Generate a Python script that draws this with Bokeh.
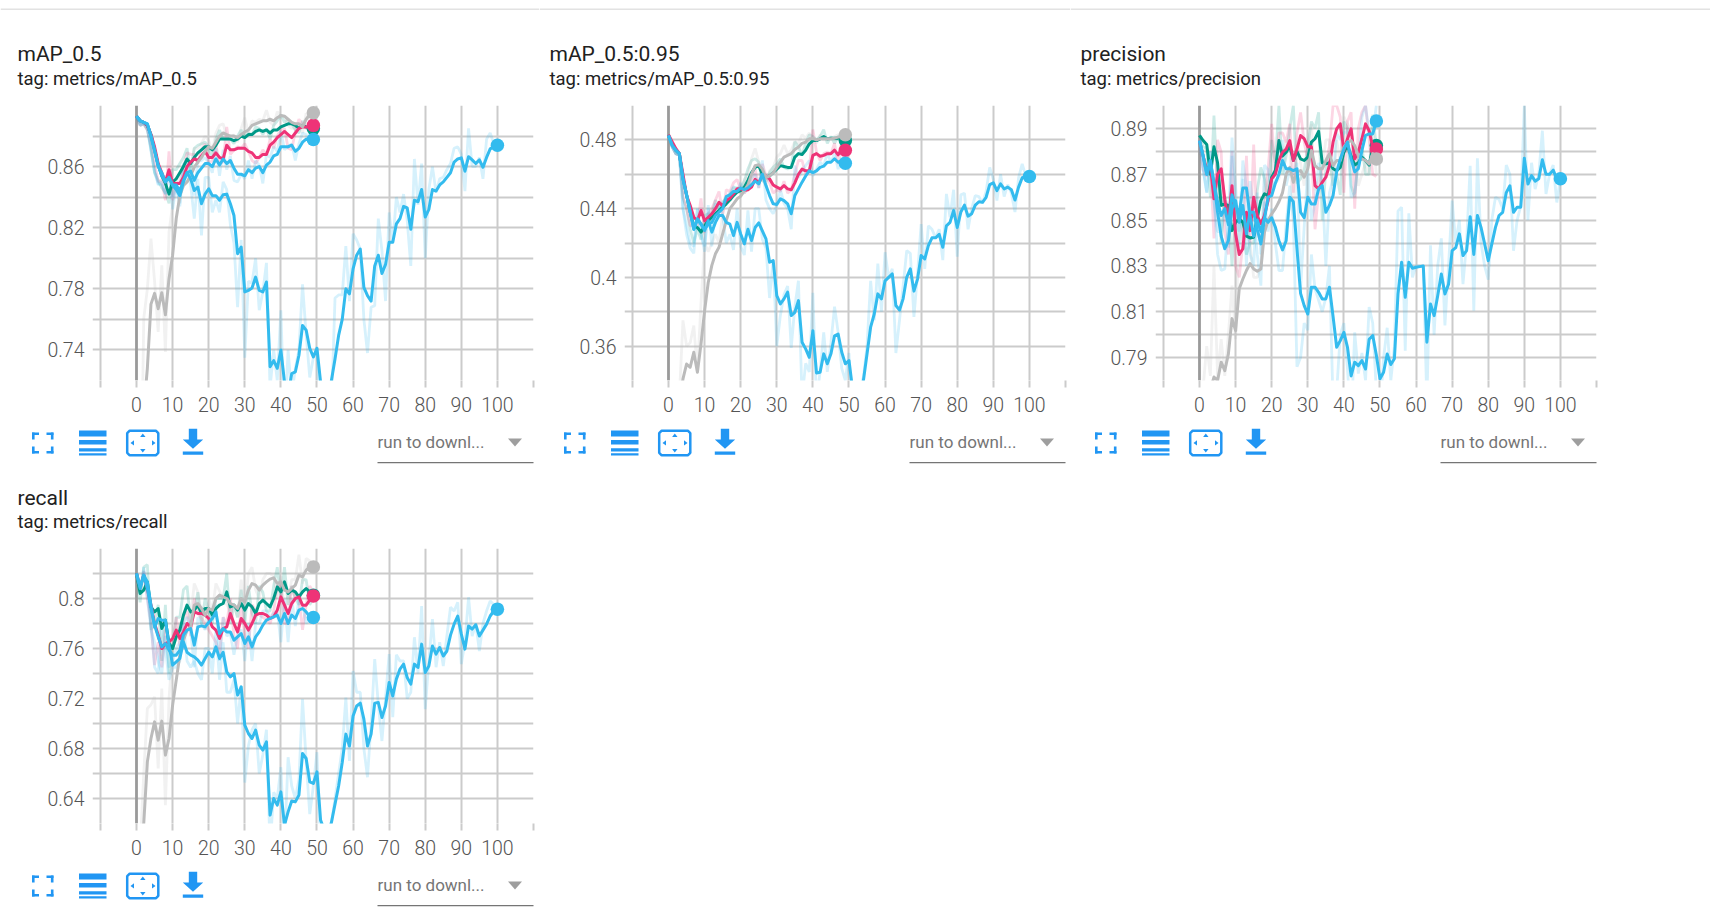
from bokeh.core.properties import value
from bokeh.embed import file_html
from bokeh.resources import INLINE
from bokeh.plotting import figure
from bokeh.layouts import column, row
from bokeh.models import Range1d, FixedTicker, Grid

# ---------- shared ----------
x_ticks = [-10, 0, 10, 20, 30, 40, 50, 60, 70, 80, 90, 100, 110]
x_tick_labels = ["", "0", "10", "20", "30", "40", "50", "60", "70", "80", "90", "100", ""]
run_names = ["teal", "pink", "gray", "blue_short", "blue_long"]

# ---------- mAP_0.5 ----------
map50_titles = ["mAP_0.5", "tag: metrics/mAP_0.5"]
map50_range = [0.72, 0.90]
map50_grid = [.72, .74, .76, .78, .80, .82, .84, .86, .88, .90]
map50_ticks = [.74, .78, .82, .86]
map50_tick_labels = ["0.74", "0.78", "0.82", "0.86"]
map50_teal = [.893,.890,.889,.887,.881,.871,.861,.854,.849,.842,.850,.852,.856,.860,.865,.862,.866,.869,.871,.873,.873,.871,.874,.878,.878,.878,.878,.877,.878,.880,.879,.881,.881,.883,.884,.883,.884,.882,.884,.884,.886,.887,.888,.888,.887,.885,.887,.886,.886,.885]
map50_teal_raw = [.893,.887,.888,.884,.872,.856,.851,.846,.843,.836,.858,.858,.862,.866,.872,.855,.872,.874,.875,.876,.873,.866,.878,.884,.878,.878,.878,.875,.88,.884,.88,.882,.881,.886,.885,.881,.885,.878,.887,.89,.894,.889,.891,.888,.884,.882,.89,.885,.886,.884]
map50_pink = [.893,.890,.889,.887,.881,.873,.862,.856,.850,.858,.849,.849,.849,.853,.860,.863,.865,.864,.867,.870,.866,.866,.869,.866,.865,.874,.871,.871,.872,.872,.872,.870,.869,.866,.866,.868,.868,.874,.876,.879,.881,.883,.881,.879,.882,.885,.886,.886,.886,.887]
map50_pink_raw = [.893,.887,.888,.884,.874,.862,.85,.851,.838,.87,.838,.849,.85,.859,.869,.868,.868,.862,.871,.875,.862,.864,.874,.862,.863,.886,.868,.871,.873,.872,.875,.87,.864,.862,.866,.871,.868,.878,.872,.88,.884,.885,.872,.871,.883,.891,.888,.885,.887,.886]
map50_gray = [.60,.64,.70,.728,.770,.777,.767,.7775,.763,.7866,.802,.826,.841,.8477,.850,.854,.8597,.863,.866,.870,.873,.872,.876,.880,.882,.881,.880,.880,.879,.881,.8826,.884,.887,.888,.889,.890,.890,.891,.890,.892,.8935,.893,.891,.889,.888,.888,.886,.891,.894,.8952]
map50_gray_raw = [.56,.60,.7605,.78,.8128,.785,.7518,.7954,.7387,.817,.835,.85,.856,.858,.852,.86,.872,.872,.875,.88,.877,.87,.882,.887,.888,.88,.878,.881,.876,.885,.892,.882,.89,.889,.891,.89,.897,.889,.887,.896,.893,.893,.887,.885,.886,.888,.882,.895,.889,.897]
map50_blue_short = [.893,.890,.889,.888,.880,.870,.861,.854,.850,.853,.848,.848,.844,.851,.856,.857,.851,.856,.859,.862,.862,.860,.865,.861,.865,.862,.864,.859,.855,.855,.854,.858,.856,.859,.860,.856,.861,.863,.867,.868,.873,.873,.873,.874,.870,.872,.876,.878,.877,.8778]
map50_blue_short_raw = [.893,.887,.888,.885,.87,.856,.849,.848,.842,.858,.84,.848,.836,.861,.863,.858,.841,.864,.864,.866,.862,.856,.872,.854,.871,.858,.867,.851,.85,.855,.852,.864,.852,.864,.861,.849,.868,.866,.873,.87,.883,.871,.873,.875,.864,.875,.882,.881,.875,.879]
map50_blue_long = [.893,.890,.889,.888,.880,.871,.860,.856,.850,.853,.8477,.845,.841,.850,.856,.852,.8444,.8466,.8357,.842,.8455,.841,.841,.838,.8416,.842,.8357,.828,.803,.8074,.778,.779,.7805,.7877,.779,.778,.7845,.729,.733,.728,.74,.719,.71,.7245,.7256,.7365,.756,.753,.741,.7354,.741,.719,.70,.69,.72,.734,.7495,.760,.78,.7767,.793,.802,.806,.781,.7756,.772,.795,.802,.79,.796,.8105,.8105,.8225,.826,.834,.833,.819,.838,.837,.845,.827,.832,.845,.844,.848,.85,.853,.856,.863,.865,.8657,.857,.8665,.8644,.862,.8644,.8596,.866,.8716,.873,.874]
map50_blue_long_raw = [.893,.888,.888,.887,.871,.858,.848,.85,.842,.858,.832,.848,.834,.862,.862,.848,.826,.852,.815,.853,.853,.83,.838,.83,.85,.845,.822,.81,.768,.812,.735,.785,.784,.8,.766,.778,.797,.715,.74,.72,.766,.69,.74,.71,.728,.74,.783,.75,.722,.735,.742,.68,.67,.66,.70,.774,.776,.776,.808,.772,.816,.812,.806,.76,.738,.768,.769,.826,.805,.772,.83,.81,.84,.83,.842,.825,.795,.865,.835,.862,.80,.845,.86,.843,.852,.853,.858,.862,.872,.873,.868,.844,.885,.86,.86,.866,.852,.878,.882,.875,.874]

# ---------- mAP_0.5:0.95 ----------
map95_titles = ["mAP_0.5:0.95", "tag: metrics/mAP_0.5:0.95"]
map95_range = [0.34, 0.50]
map95_grid = [.34, .36, .38, .40, .42, .44, .46, .48, .50]
map95_ticks = [.36, .40, .44, .48]
map95_tick_labels = ["0.36", "0.4", "0.44", "0.48"]
map95_teal = [.4825,.478,.474,.472,.458,.448,.438,.430,.429,.4263,.430,.433,.435,.437,.439,.4408,.4428,.445,.4476,.4496,.4505,.4525,.4564,.461,.464,.465,.460,.458,.459,.461,.463,.465,.4645,.464,.464,.470,.472,.4715,.474,.4777,.4796,.4796,.4806,.482,.4806,.481,.481,.481,.4816,.4796]
map95_teal_raw = [.483,.476,.472,.471,.446,.44,.428,.42,.428,.422,.436,.437,.437,.445,.44,.443,.447,.448,.452,.452,.452,.456,.463,.468,.469,.467,.456,.456,.461,.464,.466,.469,.464,.463,.464,.479,.476,.471,.478,.483,.482,.48,.482,.486,.478,.482,.478,.482,.482,.477]
map95_pink = [.483,.479,.475,.472,.460,.4476,.4418,.435,.433,.4389,.433,.435,.437,.44,.4437,.4418,.4447,.446,.4486,.4515,.4515,.4505,.451,.4525,.457,.455,.459,.459,.4573,.4538,.4525,.4515,.4534,.4515,.451,.455,.460,.463,.462,.462,.471,.472,.4705,.471,.472,.472,.474,.4713,.4748,.474]
map95_pink_raw = [.483,.476,.472,.471,.447,.44,.43,.43,.43,.446,.426,.437,.44,.445,.45,.437,.451,.45,.455,.457,.451,.449,.452,.455,.463,.452,.466,.459,.455,.449,.451,.45,.456,.449,.451,.46,.468,.468,.46,.462,.486,.473,.468,.472,.473,.472,.478,.466,.48,.473]
map95_gray = [.26,.28,.30,.32,.341,.3496,.3477,.3564,.3448,.3613,.3807,.397,.407,.4137,.4176,.4253,.433,.44,.4428,.4457,.4472,.4505,.4538,.46,.465,.4655,.463,.458,.459,.461,.464,.467,.47,.471,.472,.4744,.4758,.478,.4787,.4806,.4808,.480,.4806,.4806,.4806,.4806,.481,.4816,.482,.483]
map95_gray_raw = [.26,.28,.30,.33,.375,.36,.362,.372,.345,.385,.42,.415,.42,.425,.42,.437,.445,.449,.447,.45,.449,.457,.459,.469,.475,.467,.458,.453,.462,.464,.47,.472,.477,.472,.474,.479,.478,.483,.481,.484,.481,.478,.483,.48,.48,.481,.482,.483,.483,.485]
map95_blue_short = [.4825,.477,.474,.472,.457,.448,.438,.428,.434,.431,.428,.431,.432,.436,.438,.44,.447,.448,.450,.450,.452,.451,.452,.454,.456,.4544,.460,.4534,.4476,.4428,.4424,.4457,.4447,.4428,.437,.4476,.4515,.4554,.459,.462,.461,.462,.464,.4647,.467,.467,.469,.467,.468,.4664]
map95_blue_short_raw = [.483,.476,.472,.471,.44,.43,.42,.418,.44,.425,.418,.44,.43,.443,.44,.444,.446,.449,.453,.45,.455,.449,.453,.458,.46,.452,.468,.445,.44,.437,.442,.451,.443,.44,.428,.465,.458,.462,.465,.468,.459,.463,.467,.465,.472,.467,.472,.463,.47,.464]
map95_blue_long = [.4825,.4767,.474,.4719,.4573,.448,.438,.428,.434,.431,.4273,.433,.4263,.432,.436,.436,.432,.431,.4243,.432,.4253,.4195,.428,.4214,.429,.4317,.427,.4224,.4088,.4098,.3894,.3846,.3875,.3914,.3778,.3797,.3865,.3623,.3584,.3535,.369,.3444,.3448,.3555,.3497,.3555,.366,.367,.3564,.3497,.3516,.335,.33,.33,.34,.3554,.371,.3787,.3904,.3875,.398,.400,.402,.3836,.381,.3875,.40,.405,.392,.399,.4127,.4107,.4185,.423,.423,.425,.4175,.430,.432,.439,.429,.438,.442,.4356,.437,.442,.444,.4437,.4466,.454,.455,.4505,.4544,.4515,.4525,.451,.445,.4525,.458,.4585,.4587]
map95_blue_long_raw = [.483,.476,.472,.471,.44,.425,.417,.414,.44,.425,.415,.442,.418,.44,.443,.436,.42,.425,.416,.44,.418,.413,.439,.415,.44,.44,.422,.417,.388,.41,.36,.378,.39,.395,.359,.383,.398,.33,.35,.345,.391,.328,.345,.368,.345,.362,.383,.368,.347,.34,.356,.32,.33,.335,.342,.36,.398,.375,.408,.38,.4146,.40,.405,.356,.375,.395,.4155,.414,.377,.402,.431,.405,.43,.428,.423,.428,.41,.4486,.435,.451,.412,.448,.449,.428,.44,.4476,.447,.443,.45,.464,.457,.4447,.46,.447,.454,.449,.438,.458,.466,.459,.459]

# ---------- precision ----------
prec_titles = ["precision", "tag: metrics/precision"]
prec_range = [0.78, 0.90]
prec_grid = [.78, .79, .80, .81, .82, .83, .84, .85, .86, .87, .88, .89, .90]
prec_ticks = [.79, .81, .83, .85, .87, .89]
prec_tick_labels = ["0.79", "0.81", "0.83", "0.85", "0.87", "0.89"]
prec_teal = [.887,.8847,.883,.87,.882,.875,.8564,.857,.8564,.8454,.849,.8505,.849,.843,.8422,.8425,.851,.8585,.8615,.8607,.8687,.8716,.8847,.878,.8796,.8825,.876,.880,.8767,.876,.8775,.884,.8855,.8887,.875,.8745,.875,.8724,.8716,.873,.8796,.8825,.878,.874,.875,.8775,.876,.874,.8818,.8825]
prec_teal_raw = [.887,.882,.881,.86,.8956,.865,.84,.86,.855,.83,.855,.852,.845,.835,.84,.84,.863,.873,.868,.858,.885,.875,.9,.87,.878,.89,.9,.866,.868,.872,.882,.893,.89,.897,.85,.872,.878,.865,.87,.861,.893,.89,.865,.86,.878,.882,.87,.87,.896,.882]
prec_pink = [.8847,.878,.872,.874,.8593,.870,.8724,.859,.849,.865,.844,.835,.8375,.8534,.8454,.86,.852,.8484,.852,.8585,.868,.87,.876,.8796,.881,.8847,.876,.881,.8869,.8855,.882,.882,.865,.8636,.8665,.8687,.8738,.884,.8898,.892,.8804,.8855,.8898,.8767,.8796,.8855,.892,.889,.8818,.881]
prec_pink_raw = [.8847,.872,.869,.876,.842,.885,.8796,.845,.835,.88,.83,.825,.84,.878,.84,.883,.845,.84,.855,.872,.892,.872,.888,.888,.884,.892,.862,.888,.897,.884,.876,.882,.846,.862,.872,.875,.882,.9,.9,.895,.862,.893,.897,.855,.89,.897,.9,.885,.87,.869]
prec_gray = [.77,.775,.772,.776,.7815,.78,.788,.7843,.7916,.807,.8018,.82,.8243,.828,.831,.8287,.8277,.8287,.8447,.85,.8527,.855,.858,.862,.870,.873,.8665,.871,.8716,.8687,.8724,.8804,.8738,.8724,.8724,.876,.879,.8738,.876,.876,.8818,.884,.8847,.8825,.878,.8767,.876,.8745,.879,.8767]
prec_gray_raw = [.77,.777,.795,.782,.83,.7815,.798,.782,.80,.8214,.798,.85,.84,.845,.84,.825,.825,.83,.87,.865,.865,.866,.868,.878,.885,.882,.85,.885,.875,.865,.88,.892,.863,.868,.873,.885,.885,.86,.885,.875,.895,.892,.889,.876,.865,.87,.875,.87,.887,.87]
prec_blue_short = [.8847,.878,.870,.875,.8665,.8534,.843,.8375,.841,.855,.8585,.849,.8564,.844,.8534,.8534,.846,.8396,.8505,.86,.8607,.866,.87,.876,.8724,.8724,.8716,.8724,.8534,.851,.86,.857,.857,.8636,.865,.8534,.8564,.8607,.871,.8767,.881,.884,.8767,.871,.8724,.8804,.887,.8876,.8876,.8932]
prec_blue_short_raw = [.8847,.872,.862,.88,.86,.835,.828,.8287,.85,.886,.865,.838,.868,.83,.867,.853,.835,.8214,.874,.872,.862,.875,.875,.885,.865,.872,.87,.875,.82,.847,.872,.85,.857,.875,.867,.83,.862,.868,.888,.885,.888,.889,.86,.862,.875,.895,.9,.888,.888,.9]
prec_blue_long = [.8847,.878,.870,.876,.866,.858,.852,.855,.848,.861,.856,.853,.864,.864,.852,.843,.850,.845,.851,.849,.851,.847,.841,.837,.841,.860,.858,.8375,.818,.8127,.809,.8207,.8207,.8185,.8156,.8156,.8207,.808,.7945,.7974,.801,.7945,.782,.788,.7865,.7887,.785,.798,.7996,.791,.7807,.7836,.7916,.787,.7895,.8178,.8316,.8163,.8316,.829,.8294,.8297,.830,.7967,.8134,.8083,.817,.8265,.8178,.822,.8367,.838,.844,.8345,.8367,.8515,.835,.852,.8468,.8396,.8323,.8396,.8468,.852,.8534,.862,.865,.8534,.8556,.8556,.877,.8657,.8694,.867,.868,.8763,.870,.870,.8718,.868,.868]
prec_blue_long_raw = [.8847,.872,.862,.88,.858,.845,.845,.86,.838,.878,.85,.845,.876,.864,.835,.83,.862,.835,.858,.845,.855,.84,.828,.828,.848,.865,.85,.786,.79,.805,.802,.835,.82,.815,.81,.816,.83,.77,.775,.80,.805,.785,.76,.801,.783,.792,.78,.812,.805,.775,.765,.79,.803,.78,.795,.854,.8556,.793,.853,.825,.83,.83,.83,.77,.839,.80,.83,.842,.804,.83,.8585,.84,.85,.822,.84,.8737,.8105,.877,.84,.83,.824,.85,.86,.859,.855,.874,.87,.8366,.85,.856,.9,.85,.875,.8635,.87,.889,.8614,.87,.874,.8577,.868]

# ---------- recall ----------
rec_titles = ["recall", "tag: metrics/recall"]
rec_range = [0.62, 0.84]
rec_grid = [.62, .64, .66, .68, .70, .72, .74, .76, .78, .80, .82, .84]
rec_ticks = [.64, .68, .72, .76, .80]
rec_tick_labels = ["0.64", "0.68", "0.72", "0.76", "0.8"]
rec_teal = [.82,.804,.8067,.8133,.7933,.7893,.792,.776,.7827,.764,.76,.7693,.7747,.7867,.7947,.7893,.7907,.7947,.788,.792,.792,.7867,.792,.7947,.796,.8053,.7933,.7947,.7907,.796,.7907,.796,.7933,.788,.796,.7987,.796,.7933,.8,.8093,.8053,.8133,.804,.8067,.8053,.8013,.8053,.808,.8053,.8027]
rec_teal_raw = [.82,.797,.825,.827,.775,.78,.795,.75,.795,.74,.76,.785,.785,.807,.81,.78,.79,.805,.78,.80,.79,.78,.80,.80,.80,.82,.78,.795,.785,.807,.78,.81,.788,.78,.81,.805,.79,.79,.81,.825,.80,.825,.795,.81,.80,.795,.815,.815,.795,.80]
rec_pink = [.82,.8093,.8187,.808,.7947,.78,.7707,.76,.764,.7653,.768,.7747,.768,.7733,.78,.7773,.7893,.788,.788,.7867,.784,.7773,.7747,.768,.776,.7773,.788,.78,.7733,.784,.78,.7747,.78,.7867,.788,.788,.7867,.784,.7853,.7907,.8013,.7947,.788,.796,.8,.8013,.7947,.7947,.7987,.8021]
rec_pink_raw = [.82,.805,.822,.80,.78,.7467,.765,.745,.775,.765,.76,.785,.762,.785,.79,.77,.80,.788,.784,.78,.775,.77,.765,.755,.785,.78,.80,.77,.76,.795,.77,.76,.795,.79,.787,.785,.783,.78,.79,.81,.81,.78,.78,.81,.80,.80,.775,.795,.81,.805]
rec_gray = [.56,.59,.62,.6693,.688,.7013,.6867,.7019,.6747,.688,.7147,.7347,.7547,.7667,.7747,.7773,.7947,.796,.792,.7867,.792,.7907,.8,.8027,.8013,.8,.796,.7947,.792,.8,.7973,.8067,.812,.8107,.8067,.8107,.8133,.8155,.8165,.812,.8133,.8067,.8053,.808,.8107,.8187,.8173,.8227,.8253,.8253]
rec_gray_raw = [.56,.60,.66,.712,.715,.7213,.664,.728,.6347,.72,.76,.77,.78,.782,.785,.785,.812,.805,.787,.775,.80,.79,.812,.806,.80,.795,.79,.795,.785,.815,.79,.82,.825,.807,.80,.815,.82,.82,.818,.80,.818,.79,.80,.815,.815,.835,.812,.832,.83,.825]
rec_blue_short = [.82,.8093,.8187,.808,.792,.7787,.7693,.7613,.764,.7587,.7547,.7547,.7587,.7707,.7747,.776,.7627,.7773,.7781,.7773,.7808,.784,.7893,.772,.776,.7733,.7733,.7667,.7693,.772,.764,.7693,.7613,.7693,.7733,.7787,.7827,.784,.7853,.7867,.78,.788,.78,.7867,.784,.7907,.792,.7893,.7853,.7848]
rec_blue_short_raw = [.82,.805,.825,.80,.775,.765,.75,.74,.77,.745,.75,.76,.765,.78,.785,.775,.745,.785,.78,.775,.783,.787,.795,.75,.785,.77,.772,.755,.772,.775,.75,.78,.75,.78,.78,.79,.79,.785,.788,.79,.765,.80,.765,.80,.778,.80,.795,.78,.785,.785]
rec_blue_long = [.82,.808,.8187,.8133,.7947,.777,.784,.7827,.7827,.7627,.7467,.7493,.752,.7653,.757,.7547,.7533,.7507,.7467,.752,.757,.7533,.7613,.752,.757,.7413,.7373,.74,.7227,.7293,.6987,.692,.688,.6947,.6827,.6787,.6853,.6267,.64,.6347,.6453,.6187,.6293,.638,.6373,.6427,.676,.672,.6533,.652,.6613,.6227,.615,.612,.6208,.6355,.650,.6688,.6915,.682,.706,.714,.7163,.7035,.682,.6915,.7163,.7168,.7048,.714,.7328,.722,.7355,.7435,.7475,.7368,.7315,.7475,.7448,.7635,.7408,.746,.762,.7555,.7608,.754,.758,.7707,.7795,.786,.7715,.7595,.778,.7755,.779,.770,.7747,.7795,.786,.790,.7915]
rec_blue_long_raw = [.82,.805,.822,.81,.78,.745,.74,.78,.76,.735,.745,.745,.75,.78,.75,.745,.75,.74,.735,.76,.76,.74,.775,.735,.765,.725,.725,.735,.70,.73,.6528,.682,.695,.70,.66,.675,.695,.60,.645,.64,.665,.60,.673,.65,.64,.655,.7195,.67,.6275,.65,.677,.60,.59,.59,.62,.64,.66,.68,.7208,.67,.742,.725,.725,.68,.657,.70,.7515,.715,.686,.72,.7555,.705,.755,.75,.75,.72,.725,.769,.74,.794,.7115,.75,.7835,.745,.765,.746,.77,.793,.79,.797,.7475,.765,.801,.77,.78,.758,.78,.79,.798,.795,.792]

# ---------- styles ----------
COLORS = {"teal": "#009988", "pink": "#ee3377", "gray": "#bbbbbb", "blue_short": "#33bbee", "blue_long": "#33bbee"}
GRID = "#cbcbcb"
ZERO = "#9a9a9a"
ICON = "#2196f3"
FONT = value("Roboto")
TICK_FONT = "Roboto Light"


def strip(width, height):
    """A bare figure with pixel coordinates, used for the page furniture around a chart."""
    s = figure(width=width, height=height, output_backend="svg", toolbar_location=None,
               x_range=Range1d(0, width), y_range=Range1d(height, 0),
               x_axis_location=None, y_axis_location=None, min_border=0, frame_align=False)
    s.outline_line_color = None
    s.grid.visible = False
    return s


def rect(s, x0, y0, x1, y1, fill=ICON):
    s.patch([x0, x1, x1, x0], [y0, y0, y1, y1], fill_color=fill, line_color=None)


def header(width, height, fl, title_y, sub_y, titles, rule):
    s = strip(width, height)
    s.text([fl - 75], [title_y], text=[titles[0]], text_font=FONT, text_font_size="21px",
           text_color="#212121", text_baseline="middle")
    s.text([fl - 75], [sub_y], text=[titles[1]], text_font=FONT, text_font_size="18.5px",
           text_color="#212121", text_baseline="middle")
    if rule:
        rect(s, 0, 8, width, 9.4, fill="#e2e2e2")
    return s


def footer(width, height, fl):
    s = strip(width, height)
    oy = -320
    # fullscreen
    a, b, c, d, t, n = fl - 60.5, 327 + oy, fl - 39, 348 + oy, 2.6, 7
    for x0, x1, sx in ((a, a + t, a + n), (c - t, c, c - n)):
        rect(s, x0, b, x1, b + n)
        rect(s, x0, d - n, x1, d)
        rect(s, min(x0, sx), b, max(x1, sx), b + t)
        rect(s, min(x0, sx), d - t, max(x1, sx), d)
    # list
    for y0, y1 in ((325, 331), (334.5, 339), (342.7, 346), (347.7, 350)):
        rect(s, fl - 13.5, y0 + oy, fl + 14, y1 + oy)
    # fit to data
    L, R, T, B, k = fl + 34.7, fl + 65.8, 325.2 + oy, 349.8 + oy, 2.5
    s.patch([L + k, R - k, R, R, R - k, L + k, L, L, L + k], [T, T, T + k, B - k, B, B, B - k, T + k, T],
            fill_color=None, line_color=ICON, line_width=2.5)
    s.patch([fl + 50.3, fl + 53, fl + 47.6], [328 + oy, 331.5 + oy, 331.5 + oy], fill_color=ICON, line_color=None)
    s.patch([fl + 50.3, fl + 53, fl + 47.6], [347 + oy, 343.5 + oy, 343.5 + oy], fill_color=ICON, line_color=None)
    s.patch([fl + 38, fl + 41.5, fl + 41.5], [337.4 + oy, 334.7 + oy, 340.1 + oy], fill_color=ICON, line_color=None)
    s.patch([fl + 63, fl + 59.5, fl + 59.5], [337.4 + oy, 334.7 + oy, 340.1 + oy], fill_color=ICON, line_color=None)
    # download
    s.patch([fl + v for v in (96.3, 104.7, 104.7, 110.7, 100.5, 90.3, 96.3)],
            [v + oy for v in (323.3, 323.3, 334, 334, 343.3, 334, 334)], fill_color=ICON, line_color=None)
    rect(s, fl + 90.3, 346 + oy, fl + 110.7, 349.3 + oy)
    # dropdown
    s.text([fl + 285], [336 + oy], text=["run to downl..."], text_font=FONT, text_font_size="17px",
           text_color="#757575", text_baseline="middle")
    s.patch([fl + 415.5, fl + 429.5, fl + 422.5], [333 + oy, 333 + oy, 341 + oy], fill_color="#9e9e9e", line_color=None)
    rect(s, fl + 285, 356.5 + oy, fl + 441, 357.7 + oy, fill="#757575")
    return s


def chart(y_range, grid_vals, ticks, tick_labels, series, left, right):
    p = figure(width=left + 441 + right, height=5 + 275 + 45, output_backend="svg", toolbar_location=None,
               x_range=Range1d(-12.2, 110), y_range=Range1d(*y_range), frame_align=False,
               min_border_left=left, min_border_right=right, min_border_top=5, min_border_bottom=45)
    p.outline_line_color = None
    p.grid.visible = False
    xa, ya = p.xaxis[0], p.yaxis[0]
    xa.ticker = FixedTicker(ticks=x_ticks)
    xa.major_label_overrides = dict(zip(x_ticks, x_tick_labels))
    xa.axis_line_color = None
    xa.major_tick_line_color = GRID
    xa.major_tick_line_width = 2
    xa.major_tick_out = 7
    xa.major_tick_in = 0
    xa.minor_tick_line_color = None
    xa.major_label_standoff = 9
    ya.ticker = FixedTicker(ticks=ticks)
    ya.major_label_overrides = dict(zip(ticks, tick_labels))
    ya.axis_line_color = None
    ya.major_tick_line_color = None
    ya.minor_tick_line_color = None
    ya.major_tick_out = 0
    ya.major_label_standoff = 8
    for ax in (xa, ya):
        ax.major_label_text_font = TICK_FONT
        ax.major_label_text_font_size = "19.5px"
        ax.major_label_text_color = "#555555"
    p.add_layout(Grid(dimension=1, ticker=FixedTicker(ticks=grid_vals), grid_line_color=GRID, grid_line_width=2))
    p.add_layout(Grid(dimension=0, ticker=FixedTicker(ticks=x_ticks[0:1] + x_ticks[2:]), grid_line_color=GRID, grid_line_width=2))
    p.add_layout(Grid(dimension=0, ticker=FixedTicker(ticks=[0]), grid_line_color=ZERO, grid_line_width=2.8))
    for name in run_names:
        raw, smooth = series[name]
        assert len(raw) == len(smooth)
        p.line(list(range(len(raw))), raw, line_color=COLORS[name], line_alpha=0.2, line_width=2.8)
    for name in run_names:
        raw, smooth = series[name]
        xs = list(range(len(raw)))
        p.line(xs, smooth, line_color=COLORS[name], line_width=3, line_join="round")
        p.scatter(xs[-1:], smooth[-1:], size=13.5, fill_color=COLORS[name], line_color=None)
    return p


map50_series = {"teal": (map50_teal_raw, map50_teal), "pink": (map50_pink_raw, map50_pink), "gray": (map50_gray_raw, map50_gray),
                "blue_short": (map50_blue_short_raw, map50_blue_short), "blue_long": (map50_blue_long_raw, map50_blue_long)}
map95_series = {"teal": (map95_teal_raw, map95_teal), "pink": (map95_pink_raw, map95_pink), "gray": (map95_gray_raw, map95_gray),
                "blue_short": (map95_blue_short_raw, map95_blue_short), "blue_long": (map95_blue_long_raw, map95_blue_long)}
prec_series = {"teal": (prec_teal_raw, prec_teal), "pink": (prec_pink_raw, prec_pink), "gray": (prec_gray_raw, prec_gray),
               "blue_short": (prec_blue_short_raw, prec_blue_short), "blue_long": (prec_blue_long_raw, prec_blue_long)}
rec_series = {"teal": (rec_teal_raw, rec_teal), "pink": (rec_pink_raw, rec_pink), "gray": (rec_gray_raw, rec_gray),
              "blue_short": (rec_blue_short_raw, rec_blue_short), "blue_long": (rec_blue_long_raw, rec_blue_long)}


def tile(titles, y_range, grid_vals, ticks, tick_labels, series, left, right, head_h, foot_h, title_y, sub_y, rule):
    width = left + 441 + right
    return column(header(width, head_h, left, title_y, sub_y, titles, rule),
                  chart(y_range, grid_vals, ticks, tick_labels, series, left, right),
                  footer(width, foot_h, left), spacing=0)


t1 = tile(map50_titles, map50_range, map50_grid, map50_ticks, map50_tick_labels, map50_series, 92, 6, 100, 55, 53, 78, True)
t2 = tile(map95_titles, map95_range, map95_grid, map95_ticks, map95_tick_labels, map95_series, 85, 5, 100, 55, 53, 78, True)
t3 = tile(prec_titles, prec_range, prec_grid, prec_ticks, prec_tick_labels, prec_series, 85, 114, 100, 55, 53, 78, True)
t4 = tile(rec_titles, rec_range, rec_grid, rec_ticks, rec_tick_labels, rec_series, 92, 6, 63, 44, 17, 41, False)

root = column(row(t1, t2, t3, spacing=0), row(t4, spacing=0), spacing=0)
open("out.html", "w").write(file_html(root, INLINE))
